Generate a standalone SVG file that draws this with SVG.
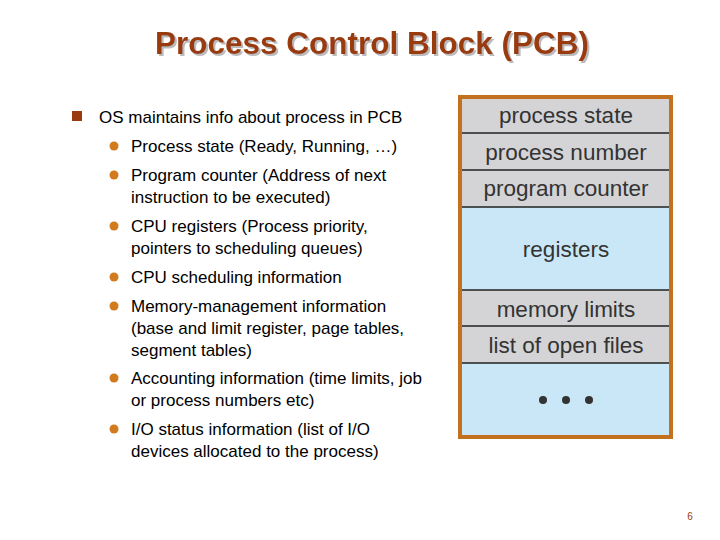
<svg xmlns="http://www.w3.org/2000/svg" width="720" height="540" viewBox="0 0 720 540">
<style>
text{font-family:"Liberation Sans",Arial,sans-serif}
.t{font-size:17px;fill:#000}
.c{font-size:22.5px;fill:#333;text-anchor:middle}
.g{fill:#d4d4d6}
.b{fill:#c9e7f6}
.sep{stroke:#222;stroke-width:1.5}
.dot{fill:#d27a1e}
</style>
<defs>
<filter id="sh" x="-5%" y="-20%" width="110%" height="140%">
<feOffset in="SourceAlpha" dx="2" dy="2" result="o"/>
<feFlood flood-color="#bbb"/>
<feComposite in2="o" operator="in" result="s"/>
<feMerge><feMergeNode in="s"/><feMergeNode in="SourceGraphic"/></feMerge>
</filter>
</defs>
<rect width="720" height="540" fill="#fff"/>
<g id="title">
<text x="372" y="54" font-size="31.5" font-weight="bold" fill="#993a0f" text-anchor="middle" filter="url(#sh)">Process Control Block (PCB)</text>
</g>
<g id="bullets">
<rect x="72" y="111" width="10" height="10" fill="#993a0f"/>
<text class="t" x="99" y="123">OS maintains info about process in PCB</text>
<circle class="dot" cx="114" cy="146" r="4.5"/>
<text class="t" x="131" y="152">Process state (Ready, Running, …)</text>
<circle class="dot" cx="114" cy="175" r="4.5"/>
<text class="t" x="131" y="181">Program counter (Address of next</text>
<text class="t" x="131" y="203">instruction to be executed)</text>
<circle class="dot" cx="114" cy="226" r="4.5"/>
<text class="t" x="131" y="232">CPU registers (Process priority,</text>
<text class="t" x="131" y="254">pointers to scheduling queues)</text>
<circle class="dot" cx="114" cy="277" r="4.5"/>
<text class="t" x="131" y="283">CPU scheduling information</text>
<circle class="dot" cx="114" cy="306" r="4.5"/>
<text class="t" x="131" y="312">Memory-management information</text>
<text class="t" x="131" y="334">(base and limit register, page tables,</text>
<text class="t" x="131" y="356">segment tables)</text>
<circle class="dot" cx="114" cy="378" r="4.5"/>
<text class="t" x="131" y="384">Accounting information (time limits, job</text>
<text class="t" x="131" y="406">or process numbers etc)</text>
<circle class="dot" cx="114" cy="429" r="4.5"/>
<text class="t" x="131" y="435">I/O status information (list of I/O</text>
<text class="t" x="131" y="457">devices allocated to the process)</text>
</g>
<g id="pcb">
<rect x="460" y="97" width="211" height="340" fill="#fff" stroke="#c4711f" stroke-width="4"/>
<rect class="g" x="462" y="99" width="207" height="108"/>
<rect class="b" x="462" y="207" width="207" height="83"/>
<rect class="g" x="462" y="290" width="207" height="73"/>
<rect class="b" x="462" y="363" width="207" height="72"/>
<line class="sep" x1="462" y1="133" x2="669" y2="133"/>
<line class="sep" x1="462" y1="170" x2="669" y2="170"/>
<line class="sep" x1="462" y1="207" x2="669" y2="207"/>
<line class="sep" x1="462" y1="290" x2="669" y2="290"/>
<line class="sep" x1="462" y1="326" x2="669" y2="326"/>
<line class="sep" x1="462" y1="363" x2="669" y2="363"/>
<text class="c" x="566" y="123">process state</text>
<text class="c" x="566" y="160">process number</text>
<text class="c" x="566" y="196">program counter</text>
<text class="c" x="566" y="257">registers</text>
<text class="c" x="566" y="317">memory limits</text>
<text class="c" x="566" y="353">list of open files</text>
<circle cx="543" cy="400" r="4" fill="#333"/>
<circle cx="566" cy="400" r="4" fill="#333"/>
<circle cx="589" cy="400" r="4" fill="#333"/>
</g>
<text x="690" y="520" font-size="10" fill="#993a0f" text-anchor="middle">6</text>
</svg>
